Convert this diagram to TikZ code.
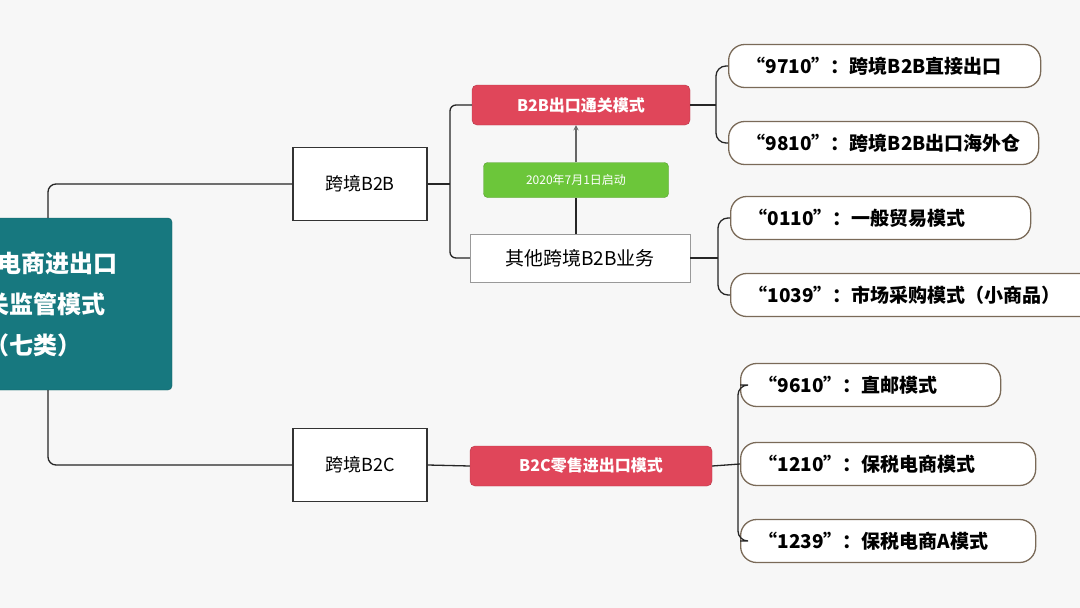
\documentclass[tikz,border=0pt]{standalone}
\usepackage{fontspec}
\setmainfont{Noto Sans CJK SC}
\usetikzlibrary{calc}
\definecolor{rootteal}{HTML}{17787F}
\definecolor{tagred}{HTML}{E0465A}
\definecolor{taggreen}{HTML}{6CC63A}
\definecolor{leafline}{HTML}{7A6A58}
\tikzset{
	rootbox/.style={draw=rootteal!80!black, fill=rootteal, rounded corners=4pt, text=white, align=center, font=\fontsize{24}{41}\selectfont\bfseries},
	kindbox/.style={draw=black!80, line width=1.4pt, fill=white, minimum width=134pt, minimum height=73pt, font=\fontsize{18}{20}\selectfont},
	redtag/.style={draw=tagred!80!black, fill=tagred, rounded corners=5pt, text=white, minimum height=40pt, font=\fontsize{16}{18}\selectfont\bfseries},
	greentag/.style={draw=taggreen!80!black, fill=taggreen, rounded corners=4pt, text=white, minimum width=185pt, minimum height=35pt, font=\fontsize{12}{14}\selectfont},
	otherbox/.style={draw=black!40, fill=white, minimum width=220pt, minimum height=48pt, font=\fontsize{19}{21}\selectfont},
	leaf/.style={draw=leafline, line width=1.3pt, fill=white, rounded corners=16pt, minimum height=43pt, anchor=west, text width=#1, align=left, inner xsep=18pt, font=\fontsize{19}{21}\selectfont\bfseries},
	link/.style={draw=black!85, line width=1.3pt}
}
\begin{document}
\begin{tikzpicture}[x=1pt, y=-1pt]
	% background / frame
	\fill[black!3] (0,0) rectangle (1080,608);
	\useasboundingbox (0,0) rectangle (1080,608);

	% root (cut at left edge)
	\node[rootbox, minimum width=276pt, minimum height=172pt] (root) at (34,304) {跨境电商进出口\\海关监管模式\\（七类）};

	% level 1
	\node[kindbox] (b2b) at (360,184) {跨境B2B};
	\node[kindbox] (b2c) at (360,465) {跨境B2C};

	% level 2
	\node[redtag, minimum width=218pt] (b2bexp) at (581,105) {B2B出口通关模式};
	\node[greentag] (date) at (576,180) {2020年7月1日启动};
	\node[otherbox] (other) at (580,258) {其他跨境B2B业务};
	\node[redtag, minimum width=242pt] (b2cmode) at (591,466) {B2C零售进出口模式};

	% leaves
	\node[leaf=276pt] (l9710) at (728,66) {“9710”：跨境B2B直接出口};
	\node[leaf=274pt] (l9810) at (728,143) {“9810”：跨境B2B出口海外仓};
	\node[leaf=264pt] (l0110) at (730,218) {“0110”：一般贸易模式};
	\node[leaf=380pt] (l1039) at (730,295) {“1039”：市场采购模式（小商品）};
	\node[leaf=224pt] (l9610) at (740,385) {“9610”：直邮模式};
	\node[leaf=259pt] (l1210) at (740,464) {“1210”：保税电商模式};
	\node[leaf=259pt] (l1239) at (740,541) {“1239”：保税电商A模式};

	% root to level 1
	\draw[link, rounded corners=8pt] (root.north -| 48,0) -- (48,184) -- (b2b.west);
	\draw[link, rounded corners=8pt] (root.south -| 48,0) -- (48,465) -- (b2c.west);

	% level 1 to level 2
	\draw[link] (b2b.east) -- (450,184);
	\draw[link, rounded corners=6pt] (b2bexp.west) -- (450,105) -- (450,258) -- (other.west);
	\draw[link] (b2c.east) -- (b2cmode.west);
	\draw[link] (other.north -| date.south) -- (date.south);
	\draw[link, ->, >=stealth, draw=black!60] (date.north) -- (date.north |- b2bexp.south);

	% level 2 to leaves
	\draw[link] (b2bexp.east) -- (716,105);
	\draw[link, rounded corners=10pt] (l9710.west) -- (716,66) -- (716,143) -- (l9810.west);
	\draw[link] (other.east) -- (718,258);
	\draw[link, rounded corners=10pt] (l0110.west) -- (718,218) -- (718,295) -- (l1039.west);
	\draw[link] (b2cmode.east) -- (l1210.west);
	\draw[link, rounded corners=10pt] (l9610.west) -- (738,385) -- (738,541) -- (l1239.west);
\end{tikzpicture}
\end{document}
